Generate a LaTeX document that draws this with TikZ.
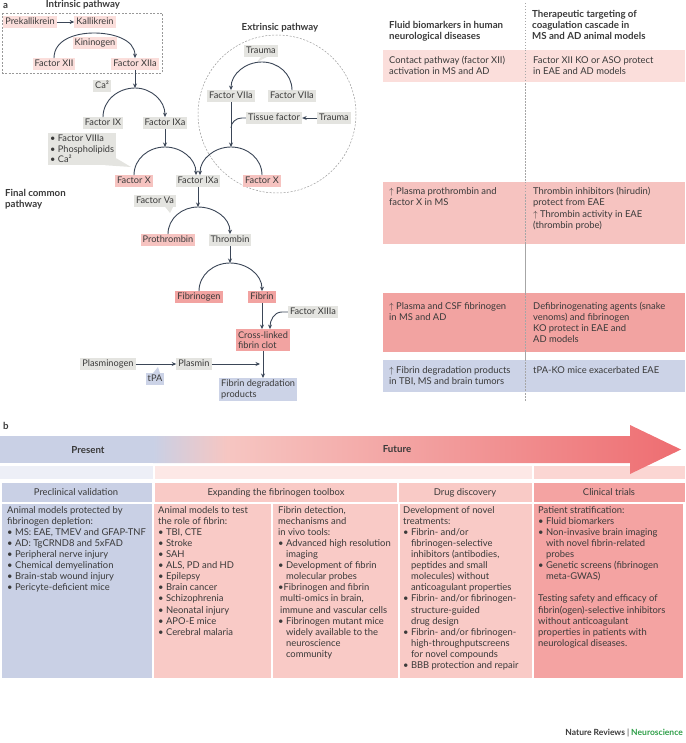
\documentclass[tikz,border=0pt]{standalone}
\usepackage{fontspec}
\setmainfont{Lato}
\usetikzlibrary{arrows.meta}
\definecolor{txt}{HTML}{3A3A3A}
\definecolor{arrowc}{HTML}{3B4657}
\definecolor{greyfill}{HTML}{E4E4E0}
\definecolor{pinklight}{HTML}{FBDEDB}
\definecolor{pinkmid}{HTML}{F6C3C0}
\definecolor{pinkdeep}{HTML}{F2A3A1}
\definecolor{bluefill}{HTML}{CCD3E7}
\definecolor{presentblue}{HTML}{C9D0E5}
\definecolor{futpink}{HTML}{F6C6C2}
\definecolor{futred}{HTML}{EE6D71}
\definecolor{paleblue}{HTML}{EDEFF7}
\definecolor{palepink}{HTML}{FDE8E6}
\definecolor{palepink2}{HTML}{FBD6D3}
\definecolor{colpink}{HTML}{F9CAC6}
\definecolor{colred}{HTML}{F4A3A2}
\definecolor{naturegreen}{HTML}{2E9E48}
\pgfdeclarehorizontalshading{futureshade}{100bp}{color(0bp)=(presentblue); color(25bp)=(presentblue); color(32bp)=(futpink); color(75bp)=(futred); color(100bp)=(futred)}
\newcommand{\nodefont}{\fontsize{9.2}{10.6}\selectfont}
\newcommand{\bodyfont}{\fontsize{9.4}{11.1}\selectfont}
\newcommand{\headfont}{\fontsize{9.7}{11.1}\selectfont\bfseries}
\newcommand{\bitem}{\textbullet\ }
\newcommand{\bcont}{\hphantom{\textbullet\ }}
\tikzstyle{box}=[inner xsep=2pt, inner ysep=1.3pt, text height=6.8pt, text depth=2pt, font=\nodefont, text=txt]
\tikzstyle{grey}=[box, fill=greyfill]
\tikzstyle{pinkA}=[box, fill=pinklight]
\tikzstyle{pinkB}=[box, fill=pinkmid]
\tikzstyle{pinkC}=[box, fill=pinkdeep]
\tikzstyle{blue}=[box, fill=bluefill]
\tikzstyle{link}=[arrowc, line width=0.9pt]
\tikzstyle{arr}=[link, ->]
\tikzstyle{title}=[font=\headfont, text=txt, inner sep=0pt]
\tikzstyle{coltext}=[font=\bodyfont, text=txt, inner sep=0pt, anchor=north west, align=left]
\tikzstyle{dashline}=[gray!80, line width=0.5pt, dash pattern=on 2pt off 1.5pt]

\begin{document}
\begin{tikzpicture}[x=1pt, y=-1pt, >={Stealth[length=4.5pt,width=4pt]}]
        \useasboundingbox (0,0) rectangle (685,743);
        % panel a: cascade
        \node[title, anchor=west] (la) at (3,6) {a};
        \node[title] (intr) at (83,5) {Intrinsic pathway};
        \node[title] (extr) at (280,28) {Extrinsic pathway};
        \node[title, anchor=north west, align=left] (fcp) at (5,189) {Final common\\pathway};
        \draw[dashline] (2,13) rectangle (162,73);
        \draw[dashline] (277,114) circle (79);
        \node[pinkA] (prekal) at (30,22) {Prekallikrein};
        \node[pinkA] (kal) at (95,22) {Kallikrein};
        \node[pinkA] (kinin) at (95,43) {Kininogen};
        \node[pinkA] (fxii) at (54,64) {Factor XII};
        \node[pinkA] (fxiia) at (135,64) {Factor XIIa};
        \node[grey] (ca) at (102,86) {Ca²};
        \node[grey] (fix) at (103,123) {Factor IX};
        \node[grey] (fixa) at (165,123) {Factor IXa};
        \node[grey, anchor=north west, align=left, text height=, text depth=, inner ysep=2pt] (cof) at (48,133) {\textbullet\ Factor VIIIa\\\textbullet\ Phospholipids\\\textbullet\ Ca²};
        \node[pinkB] (fxl) at (134,181) {Factor X};
        \node[grey] (fixab) at (198,181) {Factor IXa};
        \node[pinkB] (fxr) at (262,181) {Factor X};
        \node[grey] (trauma1) at (261,51) {Trauma};
        \node[grey] (fviia1) at (231,96) {Factor VIIa};
        \node[grey] (fviia2) at (292,96) {Factor VIIa};
        \node[grey] (tissue) at (274,118) {Tissue factor};
        \node[grey] (trauma2) at (334,118) {Trauma};
        \node[grey] (fva) at (155,201) {Factor Va};
        \node[pinkB] (prothr) at (168,240) {Prothrombin};
        \node[grey] (thromb) at (230,240) {Thrombin};
        \node[pinkC] (fbgn) at (199,297) {Fibrinogen};
        \node[pinkC] (fibrin) at (262,297) {Fibrin};
        \node[grey] (fxiiia) at (313,312) {Factor XIIIa};
        \node[pinkC, align=left, text height=, text depth=, inner ysep=2pt] (clot) at (263,340) {Cross-linked\\fibrin clot};
        \node[grey] (plgn) at (108,364) {Plasminogen};
        \node[grey] (plasmin) at (194,364) {Plasmin};
        \node[blue] (tpa) at (155,379) {tPA};
        \node[blue, anchor=north west, align=left, text height=, text depth=, inner ysep=2pt] (fdp) at (219,378) {Fibrin degradation\\products};
        % callout tails
        \fill[greyfill] ([xshift=-11pt]cof.south east) -- ([yshift=7pt]cof.south east) -- (131,167) -- cycle;
        \fill[greyfill] ([xshift=-11pt]fva.south east) -- ([xshift=-3pt]fva.south east) -- (170,213) -- cycle;
        \fill[greyfill] (trauma1.south) -- ([xshift=6pt]trauma1.south) -- (257,62) -- cycle;
        \fill[bluefill] ([xshift=-2pt]tpa.north) -- ([xshift=5pt]tpa.north) -- (158,367) -- cycle;
        % arc peaks
        \coordinate (pk1) at (94,33);
        \coordinate (pk2) at (135,88);
        \coordinate (pk3) at (165,147);
        \coordinate (pk4) at (231,147);
        \coordinate (pk5) at (262,62);
        \coordinate (pk6) at (198,207);
        \coordinate (pk7) at (230,263);
        \coordinate (tfjoin) at (231,128);
        \draw[arr] (prekal) -- (kal);
        \draw[arr] (fxii.north) to[out=90,in=180] (pk1) to[out=0,in=90] (fxiia.north);
        \draw[arr] (fxiia.south) -- (pk2);
        \draw[arr] (fix.north) to[out=90,in=180] (pk2) to[out=0,in=90] (fixa.north);
        \draw[arr] (fixa.south) -- (pk3);
        \draw[arr] (fxl.north) to[out=90,in=180] (pk3) to[out=0,in=90] ([xshift=-2pt]fixab.north);
        \draw[arr] (fxr.north) to[out=90,in=0] (pk4) to[out=180,in=90] ([xshift=2pt]fixab.north);
        \draw[arr] (fviia2.north) to[out=90,in=0] (pk5) to[out=180,in=90] (fviia1.north);
        \draw[arr] (fviia1.south) -- (pk4);
        \draw[link] (tissue.west) -- ++(-4,0) to[out=180,in=90] (tfjoin);
        \draw[arr] (trauma2) -- (tissue);
        \draw[arr] (fixab.south) -- (pk6);
        \draw[arr] (prothr.north) to[out=90,in=180] (pk6) to[out=0,in=90] (thromb.north);
        \draw[arr] (thromb.south) -- (pk7);
        \draw[arr] (fbgn.north) to[out=90,in=180] (pk7) to[out=0,in=90] (fibrin.north);
        \draw[arr] (fibrin.south) -- (fibrin.south |- clot.north);
        \draw[arr] (fxiiia.west) -- ++(-6,0) to[out=180,in=90] ([xshift=7pt]clot.north);
        \draw[arr] (clot.south) -- (clot.south |- fdp.north);
        \draw[arr] (plgn) -- (plasmin);
        \draw[arr, shorten >=3pt] (plasmin.east) -- (plasmin.east -| clot.south);
        % panel a: table
        \draw[gray!70, line width=0.5pt, dash pattern=on 1.5pt off 1.5pt] (525,3) -- (525,402);
        \node[title, anchor=north west, align=left] (h1) at (389,21) {Fluid biomarkers in human\\neurological diseases};
        \node[title, anchor=north west, align=left] (h2) at (532,10) {Therapeutic targeting of\\coagulation cascade in\\MS and AD animal models};
        \fill[pinklight] (383,50) rectangle (685,82);
        \fill[pinkmid] (383,182) rectangle (685,244);
        \fill[pinkdeep] (383,293) rectangle (685,352);
        \fill[bluefill] (383,360) rectangle (685,392);
        \draw[gray!70, line width=0.5pt, dash pattern=on 1.5pt off 1.5pt] (525,50) -- (525,392);
        \node[coltext] (r1a) at (389,56) {Contact pathway (factor XII)\\activation in MS and AD};
        \node[coltext] (r1b) at (533,56) {Factor XII KO or ASO protect\\in EAE and AD models};
        \node[coltext] (r2a) at (389,187) {$\uparrow$ Plasma prothrombin and\\factor X in MS};
        \node[coltext] (r2b) at (533,187) {Thrombin inhibitors (hirudin)\\protect from EAE\\[1pt]$\uparrow$ Thrombin activity in EAE\\(thrombin probe)};
        \node[coltext] (r3a) at (389,302) {$\uparrow$ Plasma and CSF fibrinogen\\in MS and AD};
        \node[coltext] (r3b) at (533,302) {Defibrinogenating agents (snake\\venoms) and fibrinogen\\KO protect in EAE and\\AD models};
        \node[coltext] (r4a) at (389,366) {$\uparrow$ Fibrin degradation products\\in TBI, MS and brain tumors};
        \node[coltext] (r4b) at (533,366) {tPA-KO mice exacerbated EAE};
        % panel b
        \node[title, anchor=west] (lb) at (3,426) {b};
        \fill[paleblue] (0,466) rectangle (153,479);
        \fill[palepink] (155,466) rectangle (532,479);
        \fill[palepink2] (534,466) rectangle (685,479);
        \fill[presentblue] (0,436) rectangle (153,463);
        \shade[shading=futureshade] (153,436) -- (630,436) -- (630,425) -- (681,449.5) -- (630,474) -- (630,463) -- (153,463) -- cycle;
        \node[title] (present) at (88,450) {Present};
        \node[title] (future) at (397,449) {Future};
        \fill[presentblue] (2,483) rectangle (152,502);
        \fill[colpink] (155,483) rectangle (397,502);
        \fill[colpink] (399,483) rectangle (532,502);
        \fill[colred] (534,483) rectangle (685,502);
        \node[font=\bodyfont, text=txt] (hd1) at (76,492.5) {Preclinical validation};
        \node[font=\bodyfont, text=txt] (hd2) at (276,492.5) {Expanding the fibrinogen toolbox};
        \node[font=\bodyfont, text=txt] (hd3) at (465,492.5) {Drug discovery};
        \node[font=\bodyfont, text=txt] (hd4) at (609,492.5) {Clinical trials};
        \fill[presentblue] (2,504) rectangle (152,678);
        \fill[colpink] (154,504) rectangle (271,678);
        \fill[colpink] (273,504) rectangle (398,678);
        \fill[colpink] (400,504) rectangle (532,678);
        \fill[colred] (534,504) rectangle (683,678);
        \node[coltext] (c1) at (7,506) {Animal models protected by\\fibrinogen depletion:\\\bitem MS: EAE, TMEV and GFAP-TNF\\\bitem AD: TgCRND8 and 5xFAD\\\bitem Peripheral nerve injury\\\bitem Chemical demyelination\\\bitem Brain-stab wound injury\\\bitem Pericyte-deficient mice};
        \node[coltext] (c2) at (158,506) {Animal models to test\\the role of fibrin:\\\bitem TBI, CTE\\\bitem Stroke\\\bitem SAH\\\bitem ALS, PD and HD\\\bitem Epilepsy\\\bitem Brain cancer\\\bitem Schizophrenia\\\bitem Neonatal injury\\\bitem APO-E mice\\\bitem Cerebral malaria};
        \node[coltext] (c3) at (278,506) {Fibrin detection,\\mechanisms and\\in vivo tools:\\\bitem Advanced high resolution\\\bcont imaging\\\bitem Development of fibrin\\\bcont molecular probes\\\textbullet Fibrinogen and fibrin\\\hspace*{2pt}multi-omics in brain,\\\hspace*{2pt}immune and vascular cells\\\bitem Fibrinogen mutant mice\\\bcont widely available to the\\\bcont neuroscience\\\bcont community};
        \node[coltext] (c4) at (403,506) {Development of novel\\treatments:\\\bitem Fibrin- and/or\\\bcont fibrinogen-selective\\\bcont inhibitors (antibodies,\\\bcont peptides and small\\\bcont molecules) without\\\bcont anticoagulant properties\\\bitem Fibrin- and/or fibrinogen-\\\bcont structure-guided\\\bcont drug design\\\bitem Fibrin- and/or fibrinogen-\\\bcont high-throughputscreens\\\bcont for novel compounds\\\bitem BBB protection and repair};
        \node[coltext] (c5) at (538,506) {Patient stratification:\\\bitem Fluid biomarkers\\\bitem Non-invasive brain imaging\\\bcont with novel fibrin-related\\\bcont probes\\\bitem Genetic screens (fibrinogen\\\bcont meta-GWAS)\\[11.1pt]Testing safety and efficacy of\\fibrin(ogen)-selective inhibitors\\without anticoagulant\\properties in patients with\\neurological diseases.};
        \node[font=\fontsize{8.5}{10}\selectfont\bfseries, text=txt, anchor=east, inner sep=0pt] (credit) at (683,733) {Nature Reviews {\mdseries|} \textcolor{naturegreen}{Neuroscience}};
    \end{tikzpicture}
\end{document}
